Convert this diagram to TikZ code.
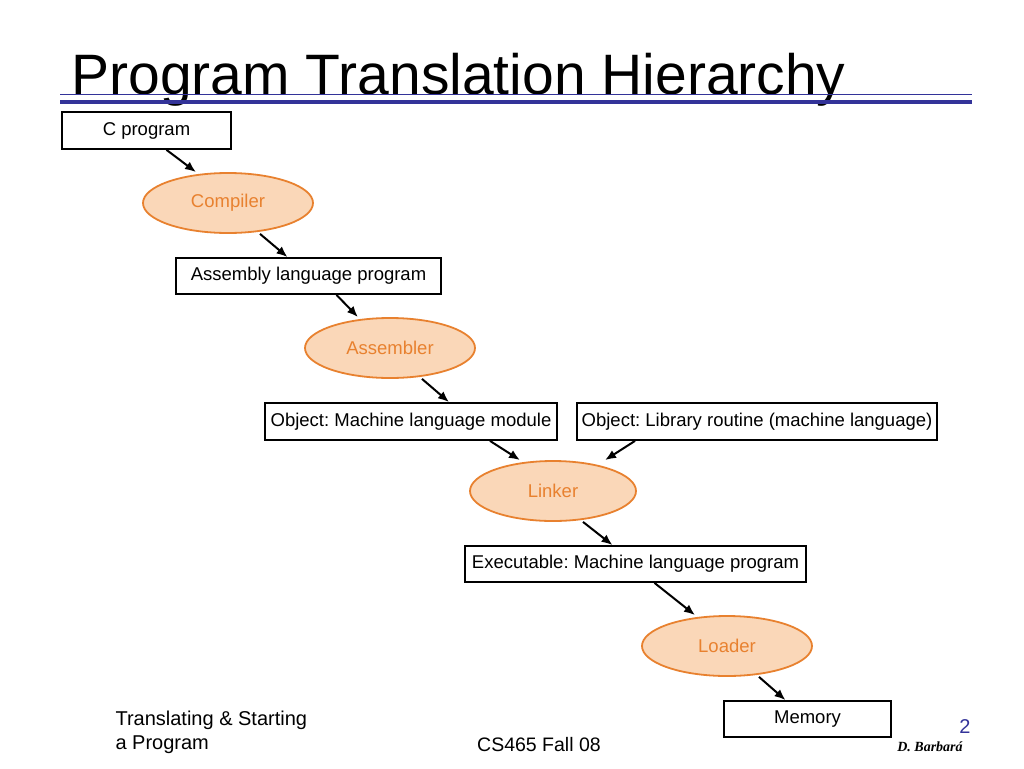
\documentclass[tikz,border=0pt]{standalone}
\usepackage{fontspec}
\setmainfont{Liberation Sans}
\newfontfamily\sigfont{Liberation Serif}
\usetikzlibrary{shapes.geometric,arrows.meta}
\definecolor{ttl}{HTML}{333399}
\definecolor{orfill}{HTML}{FAD7B8}
\definecolor{ordraw}{HTML}{E8812F}
\begin{document}
\frenchspacing
\begin{tikzpicture}[x=1pt,y=-1pt,
 box/.style={draw,line width=1.8pt,inner sep=0pt,font=\fontsize{18.5}{22}\selectfont},
 proc/.style={ellipse,draw=ordraw,fill=orfill,line width=1.8pt,inner sep=0pt,text=ordraw,font=\fontsize{18.5}{22}\selectfont,minimum width=170pt,minimum height=60pt},
 arr/.style={-{Latex[length=11pt,width=9pt]},line width=2pt}]
\useasboundingbox (0,0) rectangle (1024,768);
\node[anchor=base west,font=\fontsize{57}{60}\selectfont] (title) at (68,94) {Program Translation Hierarchy};
\draw[ttl,line width=1pt] (60,94) -- (972,94);
\draw[ttl,line width=4pt] (60,102) -- (972,102);
\node[box,minimum width=169pt,minimum height=37pt] (c) at (146.5,130.5) {C program};
\node[proc] (comp) at (228,203) {Compiler};
\node[box,minimum width=265pt,minimum height=36pt] (asm) at (308.5,276) {Assembly language program};
\node[proc] (asmb) at (390,348) {Assembler};
\node[box,minimum width=292pt,minimum height=37pt] (obj) at (411,421.5) {Object: Machine language module};
\node[box,minimum width=360pt,minimum height=37pt] (lib) at (757,421.5) {Object: Library routine (machine language)};
\node[proc,minimum width=166pt] (link) at (553,491) {Linker};
\node[box,minimum width=341pt,minimum height=36pt] (exe) at (635.5,564) {Executable: Machine language program};
\node[proc] (load) at (727,646) {Loader};
\node[box,minimum width=167pt,minimum height=36pt] (mem) at (807.5,719) {Memory};
\draw[arr] ([xshift=20pt]c.south) -- ([xshift=-32pt]comp.north);
\draw[arr] ([xshift=32pt]comp.south) -- ([xshift=-21pt]asm.north);
\draw[arr] ([xshift=28pt]asm.south) -- ([xshift=-32pt]asmb.north);
\draw[arr] ([xshift=32pt]asmb.south) -- ([xshift=38pt]obj.north);
\draw[arr] ([xshift=79pt]obj.south) -- ([xshift=-33pt]link.north);
\draw[arr] ([xshift=-122pt]lib.south) -- ([xshift=52pt]link.north);
\draw[arr] ([xshift=30pt]link.south) -- ([xshift=-23pt]exe.north);
\draw[arr] ([xshift=19pt]exe.south) -- ([xshift=-32pt]load.north);
\draw[arr] ([xshift=32pt]load.south) -- ([xshift=-22pt]mem.north);
\node[anchor=north west,align=left,font=\fontsize{20}{24}\selectfont] (f1) at (112,707) {Translating \& Starting\\a Program};
\node[anchor=base,font=\fontsize{19.5}{22}\selectfont] (f2) at (539,751) {CS465 Fall 08};
\node[anchor=base,text=ttl,font=\fontsize{20}{22}\selectfont] (pg) at (965,733) {2};
\node[anchor=base,font=\sigfont\itshape\bfseries\fontsize{14}{16}\selectfont] (sig) at (930,751) {D. Barbará};
\end{tikzpicture}
\end{document}
